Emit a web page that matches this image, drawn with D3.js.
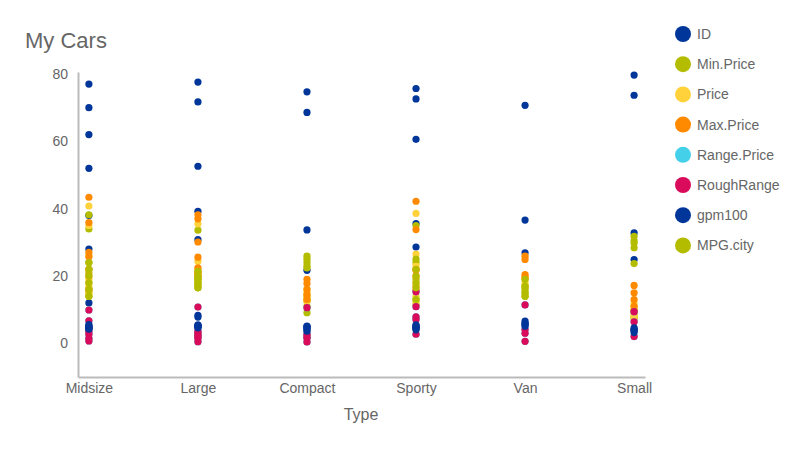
<!DOCTYPE html>
<html>
<head>
<meta charset="utf-8">
<script src="https://cdn.jsdelivr.net/npm/d3@7"></script>
<style>
  body { margin: 0; background: #fff; }
  text { font-family: "Liberation Sans", Arial, sans-serif; fill: #666; }
</style>
</head>
<body>
<div id="chart"></div>
<script>
'use strict';

var width = 800, height = 450;

// categories on the x axis
var types = ['Midsize', 'Large', 'Compact', 'Sporty', 'Van', 'Small'];

// series names, in drawing order
var seriesNames = ['ID', 'Min.Price', 'Price', 'Max.Price', 'Range.Price', 'RoughRange', 'gpm100', 'MPG.city'];
var seriesColors = ['#00369a', '#b4bc00', '#ffd23c', '#ff8a00', '#45d0ea', '#d90b5a', '#00369a', '#b4bc00'];

// one list of values per type, same order as types
var idVals = [
  [77, 70, 62, 52, 38, 28, 12],
  [77.6, 71.7, 52.6, 39.2, 30.8, 8.3, 7.8],
  [74.7, 68.6, 33.7, 21.7, 5],
  [75.7, 72.6, 60.6, 35.6, 28.6],
  [70.7, 36.6, 26.9, 6],
  [79.7, 73.7, 32.8, 24.9]
];
var minPrice = [
  [34, 24, 21, 18, 15, 14, 16],
  [33.6, 21, 19.5, 18, 16.5, 20, 17.5],
  [9.1, 11, 12.5, 13, 14],
  [35, 24, 22, 19, 13, 11.6],
  [16.5, 15, 14, 17],
  [7.4, 8, 9, 10]
];
var price = [
  [40.8, 35, 26, 22, 19, 17, 15],
  [35.5, 24.4, 22, 21, 19, 18.5, 17],
  [14, 13, 16, 15, 12.5],
  [38.6, 26.5, 23, 18, 14, 12],
  [20, 19, 17, 18],
  [8.1, 10, 11, 12]
];
var maxPrice = [
  [43.4, 35.9, 27, 25.7, 22, 20, 16],
  [38.2, 37, 30.1, 25.6, 22.4, 21, 20],
  [19, 17.8, 16, 14.5, 13],
  [42.2, 33.8, 21.7, 20, 17, 16],
  [25.9, 24.9, 20.4, 19.5],
  [17.2, 15, 13, 11, 9.5]
];
var rangePrice = [
  [9.9, 6.7, 2.7, 0.7, 4.5, 3.5, 1.5],
  [10.8, 3.6, 2.4, 0.5, 1.5, 3, 2],
  [10.6, 2.7, 1.5, 0.4, 2],
  [15.3, 10.9, 7.9, 7.1, 2.7, 5],
  [11.4, 4.1, 0.6, 3],
  [9.4, 6.4, 2, 4]
];
var roughRange = [
  [9.9, 6.7, 2.7, 0.7, 4.5, 3.5, 1.5],
  [10.8, 3.6, 2.4, 0.5, 1.5, 3, 2],
  [10.6, 2.7, 1.5, 0.4, 2],
  [15.3, 10.9, 7.9, 7.1, 2.7, 5],
  [11.4, 4.1, 0.6, 3],
  [9.4, 6.4, 2, 4]
];
var gpm100 = [
  [5.6, 5, 4.6, 4.2, 4.8, 5.2, 4.4],
  [5.1, 5.5, 4.8, 5.3, 5, 4.6, 5.2],
  [5.1, 4.4, 4, 3.6, 4.8],
  [5.1, 4.3, 4.8, 5.5, 4, 4.6],
  [6.6, 5.8, 5.1, 5.5],
  [4.6, 3.2, 3.8, 4.1]
];
var mpgCity = [
  [38.2, 24, 22, 20, 18, 16, 14],
  [21.4, 20, 19, 18, 17, 16.5, 19],
  [25.9, 25, 24, 23, 22.4],
  [25, 22, 20, 18, 16.5, 13],
  [19, 17, 16, 15, 14],
  [31.8, 29.8, 28.4, 23.7, 30.5]
];

var seriesValues = [idVals, minPrice, price, maxPrice, rangePrice, roughRange, gpm100, mpgCity];
var yTicks = [0, 20, 40, 60, 80];

var svg = d3.select('#chart')
            .append('svg')
            .attr('width', width)
            .attr('height', height);

var x = d3.scalePoint()
          .domain(types)
          .range([78, 645])
          .padding(0.1);

var y = d3.scaleLinear()
          .domain([-10, 80.6])
          .range([377, 72]);

// Title

svg.append('text')
   .attr('x', 25)
   .attr('y', 48)
   .style('font-size', '22px')
   .text('My Cars');

// Axes

var yAxis = svg.append('g')
               .attr('transform', 'translate(78,0)')
               .call(d3.axisLeft(y).tickValues(yTicks).tickSize(0).tickPadding(10));

var xAxis = svg.append('g')
               .attr('transform', 'translate(0,377)')
               .call(d3.axisBottom(x).tickSize(0).tickPadding(6));

[yAxis, xAxis].forEach(function(ax) {
  ax.select('.domain').attr('stroke', '#bbb').attr('stroke-width', 2);
  ax.selectAll('text')
    .style('font-size', '14px')
    .style('font-family', '"Liberation Sans", Arial, sans-serif')
    .attr('fill', '#666');
});

svg.append('text')
   .attr('x', 361)
   .attr('y', 420)
   .attr('text-anchor', 'middle')
   .style('font-size', '16px')
   .text('Type');

// Points

seriesValues.forEach(function(vals, s) {
  var pts = [];
  vals.forEach(function(list, t) {
    list.forEach(function(v) { pts.push({ type: types[t], value: v }); });
  });
  svg.append('g')
     .selectAll('circle')
     .data(pts)
     .enter()
     .append('circle')
     .attr('cx', function(d) { return x(d.type); })
     .attr('cy', function(d) { return y(d.value); })
     .attr('r', 3.6)
     .attr('fill', seriesColors[s]);
});

// Legend

var legend = svg.append('g')
                .selectAll('g')
                .data(seriesNames)
                .enter()
                .append('g')
                .attr('transform', function(d, i) { return 'translate(683,' + (34 + i * 30.2) + ')'; });

legend.append('circle')
      .attr('r', 8)
      .attr('fill', function(d, i) { return seriesColors[i]; });

legend.append('text')
      .attr('x', 14)
      .attr('dy', '0.35em')
      .style('font-size', '14px')
      .text(function(d) { return d; });
</script>
</body>
</html>
